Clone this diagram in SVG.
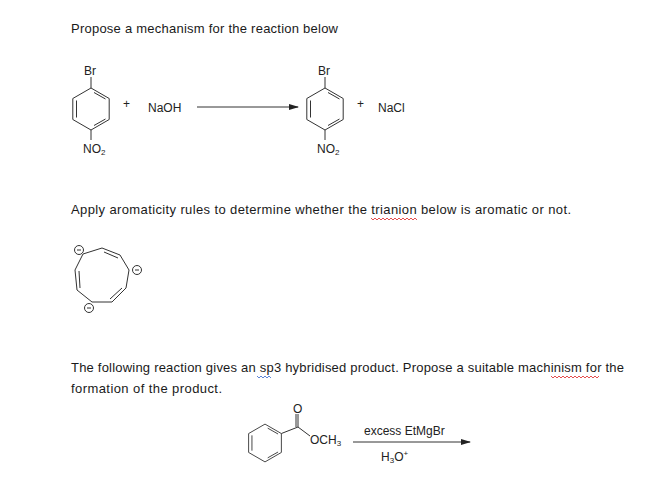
<svg xmlns="http://www.w3.org/2000/svg" width="665" height="490" viewBox="0 0 665 490">
<style>
.p{font-family:"Liberation Sans",Arial,sans-serif;font-size:13px;fill:#1a1a1a}
.c{font-family:"Liberation Sans",Arial,sans-serif;font-size:12px;fill:#222}
.s{font-size:8px}
.b{stroke:#333;stroke-width:1;fill:none}
.w{fill:none;stroke-width:0.8}
</style>
<defs>
<marker id="ah" markerWidth="10" markerHeight="6" refX="9" refY="3" orient="auto" markerUnits="userSpaceOnUse"><path d="M0,0L10,3L0,6z" fill="#222"/></marker>
<g id="bz">
<path class="b" d="M0,-21L18.2,-10.5L18.2,10.5L0,21L-18.2,10.5L-18.2,-10.5Z"/>
<path class="b" d="M3,-16.5L14.5,-10M14.5,10L3,16.5M-14.5,8.5L-14.5,-8.5"/>
</g>
</defs>
<rect width="665" height="490" fill="#fff"/>
<text class="p" x="71" y="33" textLength="267">Propose a mechanism for the reaction below</text>
<g id="reactant1">
<use href="#bz" x="91" y="109"/>
<path class="b" d="M91,88V77M91,130V140"/>
<text class="c" x="84" y="75">Br</text>
<text class="c" x="83" y="153">NO<tspan class="s" dy="2">2</tspan></text>
</g>
<g id="plus1"><text class="c" x="123" y="108">+</text></g>
<g id="naoh"><text class="c" x="148" y="112">NaOH</text></g>
<g id="product1">
<use href="#bz" x="325" y="109"/>
<path class="b" d="M325,88V77M325,130V140"/>
<text class="c" x="318" y="75">Br</text>
<text class="c" x="317" y="153">NO<tspan class="s" dy="2">2</tspan></text>
</g>
<g id="plus2"><text class="c" x="357" y="108">+</text></g>
<g id="nacl"><text class="c" x="378" y="112">NaCl</text></g>
<text class="p" x="71" y="214" textLength="500">Apply aromaticity rules to determine whether the trianion below is aromatic or not.</text>
<path class="w" stroke="#d22" d="M371,218l2,2l2,-2l2,2l2,-2l2,2l2,-2l2,2l2,-2l2,2l2,-2l2,2l2,-2l2,2l2,-2l2,2l2,-2l2,2l2,-2l2,2l2,-2l2,2l2,-2l2,2"/>
<g id="trianion">
<path class="b" d="M83,254L102,248L120,255L129,270L126,288L112,302L92,302L77,290L75,270Z"/>
<path class="b" d="M104,252L118,258M79,271L80,288M122,288L110,299"/>
<circle cx="79" cy="250" r="4.5" class="b"/><path class="b" d="M77,250h4"/>
<circle cx="137" cy="270" r="4.5" class="b"/><path class="b" d="M135,270h4"/>
<circle cx="89" cy="308" r="4.5" class="b"/><path class="b" d="M87,308h4"/>
</g>
<text class="p" x="71" y="372" textLength="553">The following reaction gives an sp3 hybridised product. Propose a suitable machinism for the</text>
<text class="p" x="71" y="393" textLength="151">formation of the product.</text>
<path class="w" stroke="#36c" d="M257,376l2,2l2,-2l2,2l2,-2l2,2l2,-2l2,2"/>
<path class="w" stroke="#d22" d="M551,376l2,2l2,-2l2,2l2,-2l2,2l2,-2l2,2l2,-2l2,2l2,-2l2,2l2,-2l2,2l2,-2l2,2l2,-2l2,2l2,-2l2,2l2,-2l2,2l2,-2l2,2l2,-2"/>
<g id="ester">
<use href="#bz" x="265" y="443" transform="translate(265,443) scale(0.9) translate(-265,-443)"/>
<path class="b" d="M281.4,433.5L298,427L310,436M298,427V414M296,427V414"/>
<text class="c" x="293" y="413">O</text>
<text class="c" x="310" y="444">OCH<tspan class="s" dy="2">3</tspan></text>
</g>
<g id="connectors">
<path class="b" d="M197,107H298" marker-end="url(#ah)"/>
<path class="b" d="M353,442H470" marker-end="url(#ah)"/>
</g>
<g id="reagents">
<text class="c" x="364" y="435">excess EtMgBr</text>
<text class="c" x="381" y="461">H<tspan class="s" dy="2">3</tspan><tspan dy="-2">O</tspan><tspan class="s" dy="-5">+</tspan></text>
</g>
</svg>
